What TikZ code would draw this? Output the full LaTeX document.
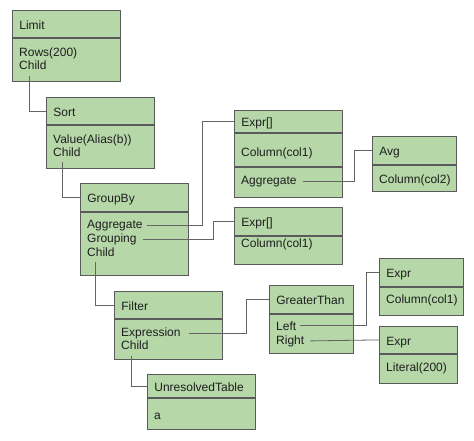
\documentclass[tikz,border=0pt]{standalone}
\usepackage{fontspec}
\setmainfont{Liberation Sans}
\usepackage{tikz}
\usetikzlibrary{positioning}
\definecolor{umlgreen}{RGB}{182,215,168}
\definecolor{umlline}{RGB}{90,90,90}
\definecolor{linkgray}{RGB}{100,100,100}
\definecolor{txt}{RGB}{30,30,30}
\tikzset{
  head/.style={draw=umlline,line width=0.8pt,fill=umlgreen,anchor=north west,
               inner xsep=7pt,inner ysep=0pt,text width=94pt,minimum height=27pt,
               text height=11pt,text depth=0pt,align=left,text=txt},
  part/.style={draw=umlline,line width=0.8pt,fill=umlgreen,inner xsep=7pt,
               inner ysep=0pt,text width=94pt},
  narrow/.style={text width=70pt},
  field/.style={anchor=base west,inner sep=0pt,text=txt},
  link/.style={draw=linkgray,line width=0.8pt}
}

\begin{document}
\begin{tikzpicture}[x=1pt,y=-1pt,font=\fontsize{12}{13.5}\selectfont]
  \useasboundingbox[fill=white] (0,0) rectangle (474,440);
  % boxes
  \node[head] (lim-head) at (12,10) {Limit};
  \node[part,minimum height=43pt,below=0pt of lim-head] (lim-body) {};
  \node[head] (sort-head) at (46,97) {Sort};
  \node[part,minimum height=43pt,below=0pt of sort-head] (sort-body) {};
  \node[head,minimum height=28pt] (gb-head) at (80,183) {GroupBy};
  \node[part,minimum height=63pt,below=0pt of gb-head] (gb-body) {};
  \node[head,minimum height=22pt] (exa-head) at (234,110) {Expr[]};
  \node[part,minimum height=33pt,below=0pt of exa-head] (exa-mid) {};
  \node[part,minimum height=30pt,below=0pt of exa-mid] (exa-body) {};
  \node[head,narrow,minimum height=28pt] (avg-head) at (372,136) {Avg};
  \node[part,narrow,minimum height=26pt,below=0pt of avg-head] (avg-body) {};
  \node[head,minimum height=28pt] (exb-head) at (234,207) {Expr[]};
  \node[part,minimum height=28pt,below=0pt of exb-head] (exb-body) {};
  \node[head] (filt-head) at (114,291) {Filter};
  \node[part,minimum height=40pt,below=0pt of filt-head] (filt-body) {};
  \node[head,narrow,minimum height=28pt] (gt-head) at (269,285) {GreaterThan};
  \node[part,narrow,minimum height=39pt,below=0pt of gt-head] (gt-body) {};
  \node[head,narrow,minimum height=28pt] (exc-head) at (379,258) {Expr};
  \node[part,narrow,minimum height=28pt,below=0pt of exc-head] (exc-body) {};
  \node[head,text width=64pt] (exd-head) at (379,326) {Expr};
  \node[part,text width=64pt,minimum height=29pt,below=0pt of exd-head] (exd-body) {};
  \node[head,minimum height=23pt] (ut-head) at (147,374) {UnresolvedTable};
  \node[part,minimum height=31pt,below=0pt of ut-head] (ut-body) {};
  % fields
  \node[field] (lim-rows) at (19,56.5) {Rows(200)};
  \node[field] (lim-child) at (19,69.5) {Child};
  \node[field] (sort-val) at (53,143) {Value(Alias(b))};
  \node[field] (sort-child) at (53,156) {Child};
  \node[field] (gb-agg) at (87,228) {Aggregate};
  \node[field] (gb-grp) at (87,242) {Grouping};
  \node[field] (gb-child) at (87,256) {Child};
  \node[field] (exa-col) at (241,156) {Column(col1)};
  \node[field] (exa-agg) at (241,184) {Aggregate};
  \node[field] (avg-col) at (379,183) {Column(col2)};
  \node[field] (exb-col) at (241,247) {Column(col1)};
  \node[field] (filt-expr) at (121,336) {Expression};
  \node[field] (filt-child) at (121,349.5) {Child};
  \node[field] (gt-left) at (276,330) {Left};
  \node[field] (gt-right) at (276,344) {Right};
  \node[field] (exc-col) at (386,303) {Column(col1)};
  \node[field] (exd-lit) at (386,371) {Literal(200)};
  \node[field] (ut-a) at (154,419) {a};
  % connectors
  \draw[link] ([xshift=10pt,yshift=-6pt]lim-child.south west) |- (sort-head.west);
  \draw[link] ([xshift=9pt,yshift=-6pt]sort-child.south west) |- (gb-head.west);
  \draw[link] ([xshift=8pt,yshift=-6pt]gb-child.south west) |- (filt-head.west);
  \draw[link] ([xshift=10pt,yshift=-6pt]filt-child.south west) |- (ut-head.west);
  \draw[link] ([xshift=4pt]gb-agg.east) -- ++(56,0) |- (exa-head.west);
  \draw[link] ([xshift=6pt]gb-grp.east) -- ++(71,0) |- (exb-head.west);
  \draw[link] ([xshift=6pt]exa-agg.east) -- ++(52,0) |- (avg-head.west);
  \draw[link] ([xshift=8pt]filt-expr.east) -- ++(58,0) |- (gt-head.west);
  \draw[link] ([xshift=4pt]gt-left.east) -- ++(66,0) |- (exc-head.west);
  \draw[link] ([xshift=6pt]gt-right.east) -- (exd-head.west);
\end{tikzpicture}
\end{document}
